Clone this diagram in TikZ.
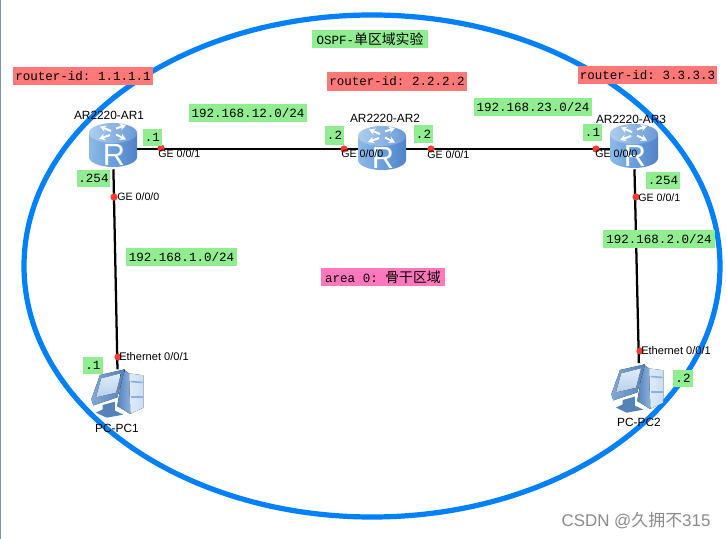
\documentclass[tikz,border=0pt]{standalone}
\usepackage{fontspec}
\setmainfont{Liberation Sans}
\setmonofont{Liberation Mono}
\newfontfamily\cjkfont{Noto Sans CJK SC}
\definecolor{ringblue}{RGB}{0,128,250}
\definecolor{edgegray}{RGB}{125,150,180}
\definecolor{boxgreen}{RGB}{144,238,144}
\definecolor{boxred}{RGB}{255,120,120}
\definecolor{boxpink}{RGB}{255,120,190}
\definecolor{dotred}{RGB}{250,60,50}
\definecolor{bodyL}{RGB}{140,185,232}
\definecolor{bodyM}{RGB}{105,160,220}
\definecolor{bodyR}{RGB}{80,130,200}
\definecolor{topL}{RGB}{175,205,238}
\definecolor{topR}{RGB}{105,155,215}
\definecolor{pcdark}{RGB}{85,130,185}
\definecolor{pcmid}{RGB}{140,178,220}
\definecolor{pclight}{RGB}{222,236,250}
\newcommand{\cjktext}[1]{{\cjkfont\fontsize{10.4}{11}\selectfont #1}}
\tikzset{
  x=0.75pt,y=-0.75pt,
  tagbox/.style={inner sep=0pt,font=\ttfamily\fontsize{9.4}{11}\selectfont,text=black,anchor=center},
  greenbox/.style={tagbox,fill=boxgreen},
  redbox/.style={tagbox,fill=boxred},
  pinkbox/.style={tagbox,fill=boxpink},
  devname/.style={inner sep=0pt,font=\fontsize{8.9}{10}\selectfont,text=black},
  portname/.style={inner sep=0pt,anchor=west,font=\fontsize{8}{9}\selectfont,text=black},
  portname2/.style={portname,font=\fontsize{8.3}{9}\selectfont},
  portdot/.style={circle,fill=dotred,inner sep=0pt,minimum size=5.4pt},
  anchorbox/.style={inner sep=0pt,rectangle},
  wire/.style={draw=black,line width=1.7pt},
  pics/routerart/.style={code={
    \path[left color=bodyL,right color=bodyR,middle color=bodyM]
      (-24,-12) -- (-24,12) arc[start angle=180,end angle=360,x radius=18pt,y radius=7.5pt]
      -- (24,-12) -- cycle;
    \path[left color=topL,right color=topR] (0,-12) ellipse[x radius=18pt,y radius=7.5pt];
    \begin{scope}[white,line width=1.5pt,-{Stealth[length=4.5pt,width=5pt]}]
      \draw (-2,-14) -- (-13,-18.5);
      \draw (3,-16.5) -- (13,-20);
      \draw (-3,-10) -- (-14,-6);
      \draw (3,-10.5) -- (13,-5.5);
    \end{scope}
    \node[inner sep=0pt,text=white,font=\fontsize{23}{25}\selectfont] at (1,10) {R};
  }},
  pics/pcart/.style={code={
    \fill[left color=pclight,right color=pclight!75!pcmid] (205,100) -- (250,106) -- (250,203) -- (210,222) -- cycle;
    \fill[left color=pcdark,right color=pcmid] (190,88) -- (207,100) -- (211,222) -- (172,198) -- cycle;
    \fill[pcmid] (212,122) -- (248,125) -- (248,130) -- (212,127) -- cycle;
    \fill[pcmid] (212,168) -- (248,168) -- (248,174) -- (212,174) -- cycle;
    \fill[pcdark] (128,195) -- (165,185) -- (165,212) -- (190,224) -- (140,233) -- (108,218) -- (128,208) -- cycle;
    \fill[left color=pcmid!80!pcdark,right color=pcdark] (120,105) -- (195,88) -- (172,172) -- (100,196) -- (94,178) -- cycle;
    \fill[top color=pclight,bottom color=pcmid!60!white] (124,115) -- (183,100) -- (168,158) -- (108,172) -- cycle;
  }}
}
\usetikzlibrary{arrows.meta}
\begin{document}
\begin{tikzpicture}
\useasboundingbox (0,0) rectangle (726,539);
\fill[white] (0,0) rectangle (726,539);
\fill[edgegray] (0,0) rectangle (1.5,539);

% outer ring
\draw[ringblue,line width=3.9pt] (372,266) ellipse[x radius=261pt,y radius=188.25pt];

% devices (anchors for the links)
\node[anchorbox,minimum width=36pt,minimum height=30pt] (r1) at (113,149) {};
\node[anchorbox,minimum width=36pt,minimum height=30pt] (r2) at (382,149) {};
\node[anchorbox,minimum width=36pt,minimum height=30pt] (r3) at (634,149) {};
\node[anchorbox,minimum width=39pt,minimum height=38pt] (pc1) at (118,395) {};
\node[anchorbox,minimum width=39pt,minimum height=40pt] (pc2) at (639.5,390) {};

% links
\draw[wire] (r1) -- (r2);
\draw[wire] (r2) -- (r3);
\draw[wire] (r1) -- (pc1);
\draw[wire] (r3) -- (pc2);

% device art
\pic at (113,145) {routerart};
\pic at (382,148) {routerart};
\pic at (634,146) {routerart};
\pic[scale=0.3333] at (60,340) {pcart};
\pic[scale=0.3333] at (580,335) {pcart};

% device names
\node[devname] (n1) at (109,115) {AR2220-AR1};
\node[devname] (n2) at (385,118) {AR2220-AR2};
\node[devname] (n3) at (631,119) {AR2220-AR3};
\node[devname] (n4) at (117,428) {PC-PC1};
\node[devname] (n5) at (639,422) {PC-PC2};

% port dots
\node[portdot] (d1) at (161,148) {};
\node[portdot] (d2) at (114,197) {};
\node[portdot] (d3) at (344,149) {};
\node[portdot] (d4) at (431,149) {};
\node[portdot] (d5) at (596,149) {};
\node[portdot] (d6) at (636,197) {};
\node[portdot] (d7) at (118,357) {};
\node[portdot] (d8) at (640,351) {};

% port names
\node[portname] (p1) at (158,154) {GE 0/0/1};
\node[portname] (p2) at (117,197) {GE 0/0/0};
\node[portname] (p3) at (341,154) {GE 0/0/0};
\node[portname] (p4) at (427,155) {GE 0/0/1};
\node[portname] (p5) at (595,154) {GE 0/0/0};
\node[portname] (p6) at (638,198) {GE 0/0/1};
\node[portname2] (p7) at (119,357) {Ethernet 0/0/1};
\node[portname2] (p8) at (641,351) {Ethernet 0/0/1};

% title + area
\node[greenbox,minimum width=87pt,minimum height=14pt] (title) at (370,39) {OSPF-\cjktext{单区域实验}};
\node[pinkbox,minimum width=93pt,minimum height=14pt] (area) at (383,277) {area 0: \cjktext{骨干区域}};

% router ids
\node[redbox,minimum width=105pt,minimum height=13.5pt] (id1) at (83,76) {router-id: 1.1.1.1};
\node[redbox,minimum width=105pt,minimum height=14pt] (id2) at (397,81.5) {router-id: 2.2.2.2};
\node[redbox,minimum width=104pt,minimum height=13.5pt] (id3) at (647.5,75) {router-id: 3.3.3.3};

% networks
\node[greenbox,minimum width=88.5pt,minimum height=13.5pt] (net12) at (248,113) {192.168.12.0/24};
\node[greenbox,minimum width=88.5pt,minimum height=13.5pt] (net23) at (533,107) {192.168.23.0/24};
\node[greenbox,minimum width=83.5pt,minimum height=13.5pt] (net1) at (181.5,257) {192.168.1.0/24};
\node[greenbox,minimum width=84pt,minimum height=13.5pt] (net2) at (659,239) {192.168.2.0/24};

% interface addresses
\node[greenbox,minimum width=14.5pt,minimum height=13pt] (a1) at (152.5,137.5) {.1};
\node[greenbox,minimum width=25pt,minimum height=13pt] (a2) at (93.5,178.5) {.254};
\node[greenbox,minimum width=14.5pt,minimum height=14pt] (a3) at (334.5,135.5) {.2};
\node[greenbox,minimum width=14.5pt,minimum height=13.5pt] (a4) at (423.5,134) {.2};
\node[greenbox,minimum width=14.5pt,minimum height=13pt] (a5) at (592.5,132.5) {.1};
\node[greenbox,minimum width=25.5pt,minimum height=13pt] (a6) at (663,180.5) {.254};
\node[greenbox,minimum width=15pt,minimum height=13pt] (a7) at (93,365.5) {.1};
\node[greenbox,minimum width=15pt,minimum height=13pt] (a8) at (683,378.5) {.2};

% watermark
\node[inner sep=0pt,text=black!45,font=\fontsize{12.7}{14}\selectfont] (wm) at (636,521) {CSDN @{\cjkfont 久拥不}315};
\end{tikzpicture}
\end{document}
